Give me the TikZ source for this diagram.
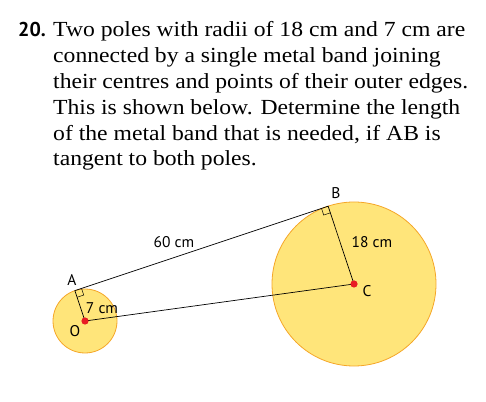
\documentclass[tikz,border=0pt]{standalone}
\usepackage{fontspec}
\setmainfont[FakeStretch=1.1]{Liberation Serif}
\newfontfamily\labelfont{PT Sans}
\usetikzlibrary{calc}

\definecolor{polefill}{RGB}{255,229,122}
\definecolor{poleedge}{RGB}{245,166,40}
\definecolor{centredot}{RGB}{232,28,36}

\tikzset{
    pole/.style={fill=polefill, draw=poleedge, line width=0.8pt},
    band/.style={black, line width=0.7pt},
    lbl/.style={font=\labelfont\fontsize{15.5}{15.5}\selectfont, inner sep=0pt},
    qline/.style={anchor=base west, inner sep=0pt, font=\fontsize{21.5}{21.5}\selectfont}
}

\begin{document}
\begin{tikzpicture}[x=1pt, y=1pt]
    \useasboundingbox (0,0) rectangle (486,401);

    % question
    \node[anchor=base west, inner sep=0pt, font=\labelfont\bfseries\fontsize{20}{20}\selectfont] (num) at (18,364) {20.};
    \foreach \t [count=\i] in {Two poles with radii of 18 cm and 7 cm are,
        connected by a single metal band joining,
        their centres and points of their outer edges.,
        This is shown below. Determine the length,
        {of the metal band that is needed, if AB is},
        tangent to both poles.}
        \node[qline] (line\i) at (53,{364-25.8*(\i-1)}) {\t};

    % poles
    \coordinate (O) at (85,80);
    \coordinate (C) at (354,117);
    \fill[pole] (O) circle (32);
    \fill[pole] (C) circle (82);

    % tangent points
    \def\tang{108.4}
    \coordinate (A) at ($(O)+(\tang:32)$);
    \coordinate (B) at ($(C)+(\tang:82)$);

    % band
    \draw[band] (O) -- (A) -- (B) -- (C) -- cycle;

    % right angles
    \draw[band, line width=0.5pt] ($(A)+(\tang+180:7)$) -- ++(\tang-90:7) -- ++(\tang:7);
    \draw[band, line width=0.5pt] ($(B)+(\tang+180:7)$) -- ++(\tang+90:7) -- ++(\tang:7);

    % centres
    \fill[centredot] (O) circle (3.6);
    \fill[centredot] (C) circle (3.6);

    % labels
    \node[lbl] (labA) at (72,121) {A};
    \node[lbl] (labB) at (336,208) {B};
    \node[lbl] (labC) at (367,110) {C};
    \node[lbl] (labO) at (75,70) {O};
    \node[lbl] (lab7) at (102,93) {7 cm};
    \node[lbl] (lab18) at (372,159) {18 cm};
    \node[lbl] (lab60) at (174,159) {60 cm};

\end{tikzpicture}
\end{document}
